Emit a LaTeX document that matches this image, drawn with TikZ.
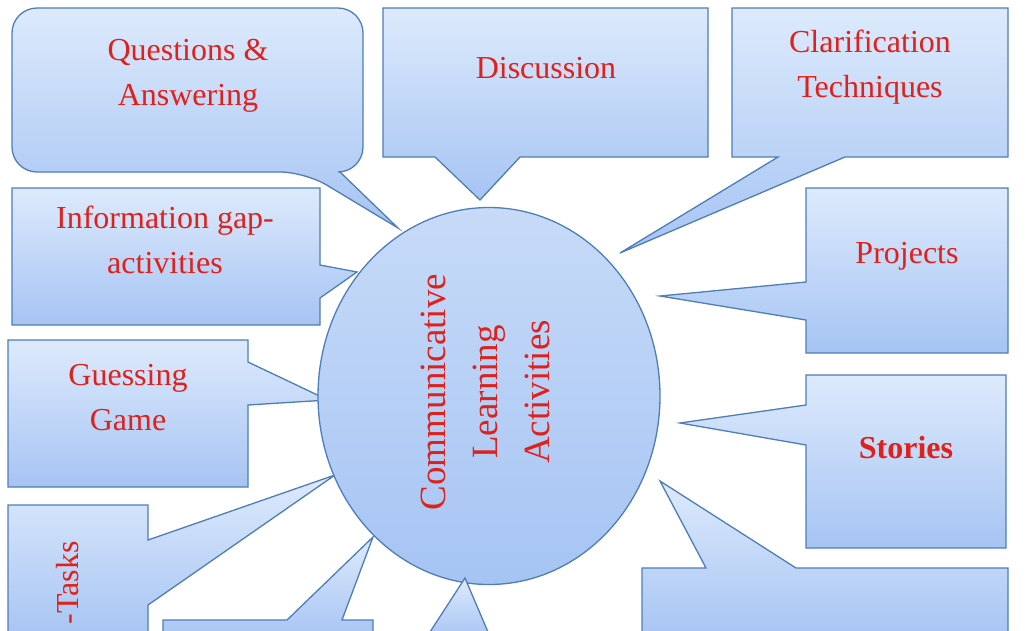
\documentclass[tikz,border=0pt]{standalone}
\usepackage{fontspec}
\setmainfont{Liberation Serif}
\usetikzlibrary{shapes.geometric}
\begin{document}
\begin{tikzpicture}[x=1pt,y=-1pt,
  callout/.style={draw=calloutline,line width=1.3pt,line join=miter,top color=cTop,bottom color=cBot},
  lbl/.style={text=lblred,font=\fontsize{32}{45}\selectfont,align=center}]
\definecolor{calloutline}{HTML}{4F7DB5}
\definecolor{cTop}{HTML}{DDEAFC}
\definecolor{cBot}{HTML}{A6C4F3}
\definecolor{lblred}{HTML}{E0201B}
\useasboundingbox (0,0) rectangle (1026,630);
\clip (0,0) rectangle (1026,630);
% Q&A rounded
\draw[callout] (340,172) [rounded corners=25pt] -- (363,172) -- (363,8) -- (12,8) -- (12,172) -- (305,172) [sharp corners] -- (398,228) -- cycle;
\node[lbl] (qa) at (188,76) {Questions \&\\Answering};
% Discussion
\draw[callout] (383,8) -- (708,8) -- (708,157) -- (520,157) -- (480,200) -- (435,157) -- (383,157) -- cycle;
\node[lbl] (disc) at (546,68) {Discussion};
% Clarification
\draw[callout] (732,8) -- (1008,8) -- (1008,157) -- (845,157) -- (620,253) -- (778,157) -- (732,157) -- cycle;
\node[lbl] (clar) at (870,67) {Clarification\\Techniques};
% Info gap
\draw[callout] (12,188) -- (320,188) -- (320,265) -- (357,272) -- (320,298) -- (320,325) -- (12,325) -- cycle;
\node[lbl] (info) at (165,240) {Information gap-\\activities};
% Projects
\draw[callout] (806,188) -- (1008,188) -- (1008,353) -- (806,353) -- (806,320) -- (660,296) -- (806,282) -- cycle;
\node[lbl] (proj) at (907,256) {Projects};
% Guessing
\draw[callout] (8,340) -- (248,340) -- (248,362) -- (328,400) -- (248,405) -- (248,487) -- (8,487) -- cycle;
\node[lbl] (guess) at (128,398) {Guessing\\Game};
% Stories
\draw[callout] (806,375) -- (1006,375) -- (1006,548) -- (806,548) -- (806,445) -- (680,423) -- (806,405) -- cycle;
\node[lbl,font=\fontsize{32}{45}\selectfont\bfseries] (stor) at (906,448) {Stories};
% Tasks
\draw[callout] (8,505) -- (148,505) -- (148,540) -- (335,475) -- (148,605) -- (148,640) -- (8,640) -- cycle;
\node[lbl,rotate=90,anchor=east] (tasks) at (68,538) {-Tasks};
% bottom-left-middle
\draw[callout] (163,620) -- (287,620) -- (373,537) -- (342,620) -- (373,620) -- (373,640) -- (163,640) -- cycle;
% bottom right
\draw[callout] (642,568) -- (706,568) -- (660,481) -- (796,568) -- (1008,568) -- (1008,640) -- (642,640) -- cycle;
% circle
\node[draw=calloutline,line width=1.3pt,ellipse,top color=cTop!60!cBot,bottom color=cBot,minimum width=342pt,minimum height=377pt,inner sep=0pt] (c) at (489,396) {};
\node[lbl,rotate=90,font=\fontsize{37}{52}\selectfont] (ctext) at (485,392) {Communicative\\Learning\\Activities};
% bottom centre
\draw[callout] (430,640) -- (430,632) -- (465,578) -- (488,632) -- (488,640);
\end{tikzpicture}
\end{document}
